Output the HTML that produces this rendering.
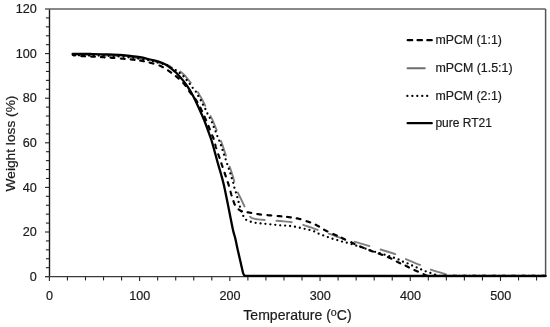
<!DOCTYPE html>
<html><head><meta charset="utf-8">
<style>
html,body{margin:0;padding:0;background:#fff;}
body{width:550px;height:327px;overflow:hidden;}
svg{display:block;filter:blur(0.3px);}
text{font-family:"Liberation Sans",Arial,sans-serif;fill:#1a1a1a;stroke:#1a1a1a;stroke-width:0.2px;}
</style></head><body>
<svg width="550" height="327" viewBox="0 0 550 327">
<rect width="550" height="327" fill="#fff"/>
<!-- plot border -->
<line x1="45" y1="9.0" x2="545.6" y2="9.0" stroke="#606060" stroke-width="1.6"/>
<line x1="545.6" y1="9.0" x2="545.6" y2="276.3" stroke="#555" stroke-width="1.5"/>
<!-- ticks -->
<g stroke="#222" stroke-width="1.1">
<line x1="45.0" y1="276.60" x2="49.5" y2="276.60"/>
<line x1="45.9" y1="267.68" x2="49.5" y2="267.68"/>
<line x1="45.9" y1="258.76" x2="49.5" y2="258.76"/>
<line x1="45.9" y1="249.84" x2="49.5" y2="249.84"/>
<line x1="45.9" y1="240.92" x2="49.5" y2="240.92"/>
<line x1="45.0" y1="232.00" x2="49.5" y2="232.00"/>
<line x1="45.9" y1="223.08" x2="49.5" y2="223.08"/>
<line x1="45.9" y1="214.16" x2="49.5" y2="214.16"/>
<line x1="45.9" y1="205.24" x2="49.5" y2="205.24"/>
<line x1="45.9" y1="196.32" x2="49.5" y2="196.32"/>
<line x1="45.0" y1="187.40" x2="49.5" y2="187.40"/>
<line x1="45.9" y1="178.48" x2="49.5" y2="178.48"/>
<line x1="45.9" y1="169.56" x2="49.5" y2="169.56"/>
<line x1="45.9" y1="160.64" x2="49.5" y2="160.64"/>
<line x1="45.9" y1="151.72" x2="49.5" y2="151.72"/>
<line x1="45.0" y1="142.80" x2="49.5" y2="142.80"/>
<line x1="45.9" y1="133.88" x2="49.5" y2="133.88"/>
<line x1="45.9" y1="124.96" x2="49.5" y2="124.96"/>
<line x1="45.9" y1="116.04" x2="49.5" y2="116.04"/>
<line x1="45.9" y1="107.12" x2="49.5" y2="107.12"/>
<line x1="45.0" y1="98.20" x2="49.5" y2="98.20"/>
<line x1="45.9" y1="89.28" x2="49.5" y2="89.28"/>
<line x1="45.9" y1="80.36" x2="49.5" y2="80.36"/>
<line x1="45.9" y1="71.44" x2="49.5" y2="71.44"/>
<line x1="45.9" y1="62.52" x2="49.5" y2="62.52"/>
<line x1="45.0" y1="53.60" x2="49.5" y2="53.60"/>
<line x1="45.9" y1="44.68" x2="49.5" y2="44.68"/>
<line x1="45.9" y1="35.76" x2="49.5" y2="35.76"/>
<line x1="45.9" y1="26.84" x2="49.5" y2="26.84"/>
<line x1="45.9" y1="17.92" x2="49.5" y2="17.92"/>
<line x1="49.40" y1="276.6" x2="49.40" y2="280.9"/>
<line x1="67.44" y1="276.6" x2="67.44" y2="280.4"/>
<line x1="85.49" y1="276.6" x2="85.49" y2="280.4"/>
<line x1="103.53" y1="276.6" x2="103.53" y2="280.4"/>
<line x1="121.57" y1="276.6" x2="121.57" y2="280.4"/>
<line x1="139.62" y1="276.6" x2="139.62" y2="280.9"/>
<line x1="157.66" y1="276.6" x2="157.66" y2="280.4"/>
<line x1="175.71" y1="276.6" x2="175.71" y2="280.4"/>
<line x1="193.75" y1="276.6" x2="193.75" y2="280.4"/>
<line x1="211.79" y1="276.6" x2="211.79" y2="280.4"/>
<line x1="229.84" y1="276.6" x2="229.84" y2="280.9"/>
<line x1="247.88" y1="276.6" x2="247.88" y2="280.4"/>
<line x1="265.92" y1="276.6" x2="265.92" y2="280.4"/>
<line x1="283.97" y1="276.6" x2="283.97" y2="280.4"/>
<line x1="302.01" y1="276.6" x2="302.01" y2="280.4"/>
<line x1="320.05" y1="276.6" x2="320.05" y2="280.9"/>
<line x1="338.10" y1="276.6" x2="338.10" y2="280.4"/>
<line x1="356.14" y1="276.6" x2="356.14" y2="280.4"/>
<line x1="374.19" y1="276.6" x2="374.19" y2="280.4"/>
<line x1="392.23" y1="276.6" x2="392.23" y2="280.4"/>
<line x1="410.27" y1="276.6" x2="410.27" y2="280.9"/>
<line x1="428.32" y1="276.6" x2="428.32" y2="280.4"/>
<line x1="446.36" y1="276.6" x2="446.36" y2="280.4"/>
<line x1="464.40" y1="276.6" x2="464.40" y2="280.4"/>
<line x1="482.45" y1="276.6" x2="482.45" y2="280.4"/>
<line x1="500.49" y1="276.6" x2="500.49" y2="280.9"/>
<line x1="518.53" y1="276.6" x2="518.53" y2="280.4"/>
<line x1="536.58" y1="276.6" x2="536.58" y2="280.4"/>
</g>
<!-- axes -->
<line x1="49.5" y1="9.6" x2="49.5" y2="276.6" stroke="#1a1a1a" stroke-width="1.4"/>
<line x1="45" y1="276.6" x2="545.6" y2="276.6" stroke="#3a3a3a" stroke-width="1.3"/>
<!-- curves -->
<g fill="none" stroke-linejoin="round">
<path d="M72.80,54.60 C77.33,54.70 92.13,54.92 100.00,55.20 C107.87,55.48 114.83,55.93 120.00,56.30 C125.17,56.67 126.00,56.72 131.00,57.40 C136.00,58.08 145.49,59.57 150.00,60.40 C154.51,61.23 155.90,61.87 158.08,62.41 C160.26,62.94 161.54,63.19 163.08,63.61 C164.62,64.03 165.89,64.38 167.32,64.92 C168.75,65.47 170.13,66.22 171.64,66.89 C173.15,67.57 174.87,68.15 176.37,68.98 C177.87,69.80 179.28,70.79 180.64,71.83 C182.01,72.88 183.41,74.09 184.56,75.24 C185.71,76.39 186.50,77.47 187.56,78.74 C188.61,80.02 189.85,81.53 190.89,82.89 C191.93,84.24 192.73,85.52 193.78,86.88 C194.84,88.24 196.31,89.73 197.23,91.04 C198.15,92.35 198.49,93.34 199.30,94.75 C200.12,96.17 201.28,97.99 202.12,99.53 C202.96,101.08 203.56,102.53 204.33,104.01 C205.10,105.49 206.01,106.96 206.74,108.43 C207.48,109.90 208.04,111.43 208.74,112.83 C209.44,114.23 210.18,115.35 210.93,116.81 C211.69,118.27 212.57,119.99 213.27,121.60 C213.98,123.20 214.52,124.90 215.14,126.44 C215.76,127.98 216.40,129.35 217.00,130.85 C217.59,132.35 218.08,133.89 218.70,135.45 C219.31,137.02 220.07,138.70 220.69,140.24 C221.31,141.78 221.89,143.22 222.41,144.70 C222.94,146.19 223.34,147.62 223.83,149.14 C224.31,150.67 224.77,152.18 225.32,153.83 C225.87,155.47 226.57,157.40 227.12,159.02 C227.67,160.63 228.09,161.94 228.62,163.52 C229.16,165.11 229.79,166.93 230.32,168.52 C230.86,170.11 231.35,171.51 231.83,173.05 C232.32,174.59 232.75,176.17 233.23,177.76 C233.72,179.36 234.02,180.27 234.75,182.61 C235.48,184.95 236.56,189.07 237.60,191.80 C238.64,194.53 239.88,196.63 241.00,199.00 C242.12,201.37 243.33,203.92 244.30,206.00 C245.27,208.08 246.00,209.93 246.80,211.50 C247.60,213.07 248.23,214.28 249.10,215.40 C249.97,216.52 250.52,217.53 252.00,218.20 C253.48,218.87 255.67,219.08 258.00,219.40 C260.33,219.72 263.17,219.90 266.00,220.10 C268.83,220.30 272.00,220.38 275.00,220.60 C278.00,220.82 281.00,221.10 284.00,221.40 C287.00,221.70 289.97,221.87 293.00,222.40 C296.03,222.93 299.37,223.80 302.20,224.60 C305.03,225.40 307.25,226.25 310.00,227.20 C312.75,228.15 315.72,229.28 318.70,230.30 C321.68,231.32 325.02,232.30 327.90,233.30 C330.78,234.30 333.13,235.27 336.00,236.30 C338.87,237.33 341.93,238.57 345.10,239.50 C348.27,240.43 352.18,241.17 355.00,241.90 C357.82,242.63 359.37,243.15 362.00,243.90 C364.63,244.65 367.87,245.52 370.80,246.40 C373.73,247.28 376.90,248.35 379.60,249.20 C382.30,250.05 384.43,250.70 387.00,251.50 C389.57,252.30 392.02,252.82 395.00,254.00 C397.98,255.18 401.90,257.25 404.90,258.60 C407.90,259.95 410.23,260.93 413.00,262.10 C415.77,263.27 418.67,264.40 421.50,265.60 C424.33,266.80 427.08,268.20 430.00,269.30 C432.92,270.40 436.10,271.32 439.00,272.20 C441.90,273.08 445.40,274.02 447.40,274.60 C449.40,275.18 449.73,275.48 451.00,275.70 C452.27,275.92 454.33,275.87 455.00,275.90 L545.60,275.90" stroke="#808080" stroke-width="1.9" stroke-linecap="round" stroke-dasharray="15.4 11.696" stroke-dashoffset="25.382"/>
<path d="M72.80,55.30 C75.67,55.33 83.80,55.40 90.00,55.50 C96.20,55.60 103.33,55.58 110.00,55.90 C116.67,56.22 123.33,56.63 130.00,57.40 C136.67,58.17 145.33,59.62 150.00,60.50 C154.67,61.38 155.83,62.13 158.00,62.70 C160.17,63.27 161.47,63.48 163.00,63.90 C164.53,64.32 165.82,64.60 167.20,65.20 C168.58,65.80 169.88,66.70 171.30,67.50 C172.72,68.30 174.30,69.08 175.70,70.00 C177.10,70.92 178.40,71.95 179.70,73.00 C181.00,74.05 182.38,75.18 183.50,76.30 C184.62,77.42 185.37,78.45 186.40,79.70 C187.43,80.95 188.67,82.45 189.70,83.80 C190.73,85.15 191.55,86.45 192.60,87.80 C193.65,89.15 195.10,90.62 196.00,91.90 C196.90,93.18 197.20,94.11 198.00,95.50 C198.80,96.89 199.97,98.72 200.80,100.25 C201.63,101.78 202.23,103.23 203.00,104.70 C203.77,106.17 204.67,107.63 205.40,109.10 C206.13,110.57 206.70,112.10 207.40,113.50 C208.10,114.90 208.85,116.05 209.60,117.50 C210.35,118.95 211.21,120.62 211.90,122.20 C212.59,123.78 213.13,125.47 213.75,127.00 C214.37,128.53 215.01,129.90 215.60,131.40 C216.19,132.90 216.68,134.43 217.30,136.00 C217.92,137.57 218.68,139.27 219.30,140.80 C219.92,142.33 220.48,143.73 221.00,145.20 C221.52,146.67 221.92,148.08 222.40,149.60 C222.88,151.12 223.35,152.65 223.90,154.30 C224.45,155.95 225.15,157.88 225.70,159.50 C226.25,161.12 226.67,162.42 227.20,164.00 C227.73,165.58 228.37,167.42 228.90,169.00 C229.43,170.58 229.92,171.97 230.40,173.50 C230.88,175.03 231.32,176.62 231.80,178.20 C232.28,179.78 232.87,181.40 233.30,183.00 C233.73,184.60 233.97,186.23 234.40,187.80 C234.83,189.37 235.42,190.83 235.90,192.40 C236.38,193.97 236.85,195.60 237.30,197.20 C237.75,198.80 238.17,200.42 238.60,202.00 C239.03,203.58 239.47,205.20 239.90,206.70 C240.33,208.20 240.65,209.48 241.20,211.00 C241.75,212.52 242.43,214.37 243.20,215.80 C243.97,217.23 244.57,218.62 245.80,219.60 C247.03,220.58 249.00,221.17 250.60,221.70 C252.20,222.23 253.82,222.52 255.40,222.80 C256.98,223.08 258.45,223.23 260.10,223.40 C261.75,223.57 262.75,223.57 265.30,223.80 C267.85,224.03 272.93,224.55 275.40,224.80 C277.87,225.05 278.52,225.17 280.10,225.30 C281.68,225.43 283.23,225.48 284.90,225.60 C286.57,225.72 288.43,225.81 290.10,226.00 C291.77,226.19 293.32,226.47 294.90,226.75 C296.48,227.03 298.02,227.36 299.60,227.70 C301.18,228.04 302.80,228.43 304.40,228.80 C306.00,229.17 307.60,229.47 309.20,229.90 C310.80,230.33 312.48,230.80 314.00,231.40 C315.52,232.00 316.78,232.83 318.30,233.50 C319.82,234.17 321.50,234.80 323.10,235.40 C324.70,236.00 326.32,236.54 327.90,237.10 C329.48,237.66 331.07,238.27 332.60,238.75 C334.13,239.23 335.57,239.54 337.10,240.00 C338.63,240.46 340.22,241.07 341.80,241.50 C343.38,241.93 344.40,241.97 346.60,242.60 C348.80,243.23 352.37,244.47 355.00,245.30 C357.63,246.13 359.58,246.68 362.40,247.60 C365.22,248.52 368.85,249.82 371.90,250.80 C374.95,251.78 377.63,252.55 380.70,253.50 C383.77,254.45 387.37,255.52 390.30,256.50 C393.23,257.48 396.23,258.55 398.30,259.40 C400.37,260.25 401.17,260.93 402.70,261.60 C404.23,262.27 405.90,262.73 407.50,263.40 C409.10,264.07 410.77,264.93 412.30,265.60 C413.83,266.27 415.23,266.77 416.70,267.40 C418.17,268.03 419.63,268.75 421.10,269.40 C422.57,270.05 423.98,270.72 425.50,271.30 C427.02,271.88 428.63,272.35 430.20,272.90 C431.77,273.45 433.60,274.13 434.90,274.60 C436.20,275.07 436.98,275.48 438.00,275.70 C439.02,275.92 440.50,275.87 441.00,275.90 L545.60,275.90" stroke="#000" stroke-width="2.3" stroke-linecap="round" stroke-dasharray="0 4.944" stroke-dashoffset="3.578"/>
<path d="M72.80,55.00 L72.92,55.01 L73.05,55.03 L73.19,55.05 L73.34,55.07 L73.50,55.09 L73.66,55.11 L73.84,55.13 L74.02,55.16 L74.21,55.18 L74.41,55.21 L74.62,55.24 L74.83,55.27 L75.04,55.30 L75.27,55.33 L75.28,55.33 M81.26,56.04 L81.49,56.06 L81.75,56.08 L82.00,56.10 L82.25,56.12 L82.51,56.14 L82.77,56.16 L83.03,56.17 L83.30,56.19 L83.56,56.21 L83.83,56.22 L84.10,56.24 L84.37,56.25 L84.65,56.26 L84.92,56.28 L85.05,56.28 M91.10,56.51 L91.11,56.51 L91.39,56.53 L91.66,56.54 L91.93,56.55 L92.20,56.56 L92.47,56.57 L92.74,56.59 L93.00,56.60 L93.26,56.61 L93.52,56.63 L93.78,56.64 L94.04,56.66 L94.30,56.67 L94.55,56.68 L94.81,56.70 L94.89,56.70 M100.88,57.06 L101.02,57.07 L101.26,57.09 L101.51,57.10 L101.76,57.12 L102.00,57.14 L102.25,57.15 L102.50,57.17 L102.75,57.18 L103.00,57.20 L103.25,57.22 L103.50,57.23 L103.75,57.25 L104.00,57.27 L104.25,57.28 L104.50,57.30 L104.68,57.31 M110.60,57.72 L110.75,57.73 L111.00,57.75 L111.25,57.77 L111.50,57.79 L111.75,57.81 L112.00,57.83 L112.25,57.84 L112.50,57.86 L112.75,57.88 L113.00,57.90 L113.25,57.92 L113.50,57.94 L113.75,57.96 L114.00,57.98 L114.25,57.99 L114.39,58.00 M120.88,58.52 L121.03,58.53 L121.28,58.55 L121.53,58.57 L121.77,58.59 L122.02,58.62 L122.27,58.64 L122.51,58.66 L122.76,58.68 L123.00,58.70 L123.24,58.72 L123.49,58.74 L123.73,58.76 L123.97,58.78 L124.21,58.80 L124.45,58.83 L124.67,58.84 M130.76,59.41 L130.84,59.42 L131.08,59.44 L131.32,59.47 L131.55,59.49 L131.79,59.52 L132.03,59.55 L132.26,59.57 L132.50,59.60 L132.74,59.63 L132.97,59.65 L133.21,59.68 L133.45,59.71 L133.69,59.74 L133.92,59.76 L134.16,59.79 L134.40,59.82 L134.54,59.84 M140.23,60.60 L140.33,60.61 L140.57,60.65 L140.81,60.69 L141.05,60.73 L141.28,60.77 L141.52,60.81 L141.76,60.86 L142.00,60.90 L142.24,60.94 L142.48,60.99 L142.72,61.04 L142.96,61.08 L143.21,61.13 L143.45,61.18 L143.69,61.23 L143.94,61.28 L143.97,61.28 M149.65,62.60 L149.77,62.63 L150.01,62.69 L150.24,62.75 L150.47,62.80 L150.70,62.86 L150.93,62.92 L151.15,62.98 L151.38,63.04 L151.60,63.10 L151.82,63.16 L152.04,63.22 L152.26,63.28 L152.48,63.34 L152.70,63.40 L152.92,63.45 L153.14,63.51 L153.33,63.57 M159.50,65.52 L159.53,65.53 L159.70,65.60 L159.87,65.67 L160.03,65.74 L160.19,65.80 L160.34,65.87 L160.50,65.94 L160.65,66.01 L160.80,66.08 L160.94,66.15 L161.09,66.22 L161.23,66.29 L161.37,66.36 L161.51,66.43 L161.64,66.50 L161.77,66.57 L161.91,66.64 L162.04,66.71 L162.16,66.78 L162.29,66.86 L162.42,66.93 L162.54,67.00 L162.67,67.07 L162.79,67.15 L162.90,67.21 M168.05,70.43 L168.08,70.45 L168.20,70.54 L168.33,70.62 L168.45,70.71 L168.58,70.80 L168.71,70.89 L168.84,70.98 L168.98,71.07 L169.12,71.17 L169.26,71.27 L169.40,71.37 L169.55,71.47 L169.69,71.58 L169.85,71.69 L170.00,71.80 L170.16,71.91 L170.32,72.03 L170.48,72.15 L170.65,72.27 L170.82,72.39 L170.99,72.51 L171.15,72.63 M175.87,76.14 L175.99,76.24 L176.18,76.39 L176.37,76.55 L176.56,76.71 L176.75,76.87 L176.94,77.02 L177.13,77.18 L177.32,77.34 L177.50,77.50 L177.68,77.66 L177.87,77.82 L178.05,77.98 L178.24,78.15 L178.42,78.31 L178.61,78.48 L178.76,78.61 M183.22,82.96 L183.31,83.05 L183.48,83.23 L183.65,83.42 L183.81,83.60 L183.97,83.78 L184.13,83.96 L184.29,84.14 L184.45,84.32 L184.60,84.50 L184.75,84.68 L184.90,84.86 L185.04,85.04 L185.19,85.22 L185.32,85.40 L185.46,85.58 L185.60,85.76 L185.67,85.86 M189.10,91.06 L189.15,91.13 L189.28,91.32 L189.42,91.51 L189.56,91.71 L189.70,91.90 L189.84,92.09 L189.99,92.29 L190.14,92.48 L190.28,92.67 L190.44,92.87 L190.59,93.06 L190.74,93.25 L190.90,93.44 L191.05,93.64 L191.21,93.83 L191.37,94.02 L191.41,94.08 M195.29,98.95 L195.40,99.11 L195.55,99.33 L195.70,99.55 L195.85,99.77 L196.00,100.00 L196.15,100.23 L196.29,100.46 L196.44,100.69 L196.59,100.92 L196.73,101.16 L196.88,101.40 L197.02,101.64 L197.17,101.88 L197.31,102.12 L197.33,102.16 M200.30,107.63 L200.35,107.71 L200.48,107.97 L200.61,108.23 L200.74,108.48 L200.87,108.74 L200.99,108.99 L201.12,109.25 L201.25,109.50 L201.37,109.75 L201.50,110.00 L201.62,110.25 L201.75,110.50 L201.87,110.75 L201.99,111.00 L202.01,111.03 M204.59,116.70 L204.61,116.75 L204.72,117.00 L204.83,117.25 L204.93,117.50 L205.04,117.75 L205.15,118.00 L205.25,118.25 L205.36,118.50 L205.47,118.75 L205.57,119.00 L205.68,119.25 L205.79,119.50 L205.89,119.75 L206.00,120.00 L206.08,120.19 M208.41,125.97 L208.42,126.00 L208.52,126.25 L208.62,126.50 L208.72,126.75 L208.82,127.00 L208.91,127.25 L209.01,127.50 L209.11,127.75 L209.21,128.00 L209.31,128.25 L209.40,128.50 L209.50,128.75 L209.60,129.00 L209.70,129.25 L209.80,129.50 L209.80,129.51 M212.18,135.27 L212.28,135.50 L212.38,135.75 L212.49,136.00 L212.59,136.25 L212.69,136.50 L212.79,136.75 L212.89,137.00 L212.99,137.25 L213.08,137.50 L213.18,137.75 L213.28,138.00 L213.37,138.25 L213.47,138.50 L213.56,138.75 L213.58,138.80 M215.32,144.56 L215.37,144.75 L215.43,145.00 L215.50,145.25 L215.56,145.50 L215.62,145.75 L215.69,146.00 L215.75,146.25 L215.82,146.50 L215.88,146.75 L215.95,147.00 L216.01,147.25 L216.08,147.50 L216.15,147.75 L216.21,148.00 L216.28,148.24 M218.26,154.29 L218.34,154.50 L218.43,154.75 L218.52,155.00 L218.61,155.25 L218.70,155.50 L218.79,155.75 L218.88,156.00 L218.97,156.25 L219.06,156.50 L219.15,156.75 L219.24,157.00 L219.33,157.25 L219.42,157.50 L219.51,157.75 L219.55,157.86 M221.40,163.29 L221.47,163.50 L221.55,163.75 L221.63,164.00 L221.71,164.25 L221.79,164.50 L221.87,164.75 L221.96,165.00 L222.04,165.25 L222.12,165.50 L222.20,165.75 L222.28,166.00 L222.36,166.25 L222.45,166.50 L222.53,166.75 L222.58,166.91 M224.56,172.83 L224.56,172.84 L224.65,173.11 L224.74,173.37 L224.83,173.64 L224.92,173.90 L225.01,174.16 L225.10,174.43 L225.19,174.69 L225.28,174.95 L225.37,175.21 L225.46,175.47 L225.55,175.73 L225.63,175.99 L225.72,176.24 L225.79,176.43 M227.75,182.19 L227.79,182.31 L227.85,182.46 L227.90,182.61 L227.95,182.76 L228.00,182.91 L228.05,183.06 L228.11,183.21 L228.16,183.36 L228.21,183.50 L228.26,183.65 L228.31,183.80 L228.36,183.94 L228.41,184.09 L228.46,184.24 L228.51,184.39 L228.56,184.54 L228.61,184.70 L228.66,184.85 L228.71,185.01 L228.76,185.17 L228.81,185.34 L228.87,185.51 L228.92,185.68 L228.95,185.79 M230.58,191.69 L230.60,191.76 L230.66,192.00 L230.73,192.24 L230.79,192.47 L230.85,192.71 L230.92,192.95 L230.98,193.19 L231.05,193.42 L231.11,193.66 L231.18,193.89 L231.24,194.12 L231.31,194.35 L231.37,194.58 L231.44,194.81 L231.50,195.04 L231.57,195.26 L231.60,195.35 M233.46,201.18 L233.50,201.29 L233.57,201.50 L233.64,201.70 L233.71,201.90 L233.78,202.10 L233.85,202.30 L233.92,202.49 L233.99,202.67 L234.05,202.86 L234.12,203.03 L234.19,203.21 L234.25,203.38 L234.31,203.54 L234.38,203.70 L234.44,203.85 L234.50,204.00 L234.56,204.14 L234.62,204.28 L234.67,204.41 L234.73,204.54 L234.78,204.66 L234.81,204.72 M238.67,209.40 L238.69,209.42 L238.77,209.48 L238.85,209.54 L238.93,209.60 L239.01,209.66 L239.09,209.72 L239.18,209.78 L239.26,209.83 L239.34,209.89 L239.42,209.95 L239.50,210.00 L239.58,210.05 L239.66,210.11 L239.74,210.16 L239.82,210.21 L239.90,210.26 L239.97,210.31 L240.05,210.35 L240.13,210.40 L240.20,210.45 L240.28,210.49 L240.36,210.54 L240.43,210.58 L240.51,210.63 L240.59,210.67 L240.67,210.71 L240.74,210.75 L240.82,210.79 L240.90,210.83 L240.98,210.87 L241.06,210.91 L241.14,210.95 L241.23,210.99 L241.31,211.03 L241.40,211.06 L241.48,211.10 L241.57,211.14 L241.66,211.17 L241.75,211.21 L241.84,211.24 L241.94,211.27 L241.95,211.28 M247.50,212.28 L247.53,212.28 L247.70,212.31 L247.86,212.33 L248.02,212.35 L248.19,212.37 L248.35,212.40 L248.51,212.42 L248.67,212.45 L248.84,212.47 L249.00,212.50 L249.16,212.53 L249.33,212.56 L249.50,212.59 L249.66,212.62 L249.83,212.65 L250.01,212.68 L250.18,212.71 L250.35,212.74 L250.53,212.77 L250.70,212.81 L250.88,212.84 L251.06,212.87 L251.24,212.91 L251.25,212.91 M257.25,214.01 L257.29,214.01 L257.45,214.04 L257.61,214.06 L257.77,214.09 L257.92,214.12 L258.08,214.14 L258.24,214.16 L258.39,214.19 L258.55,214.21 L258.70,214.24 L258.86,214.26 L259.01,214.28 L259.16,214.31 L259.31,214.33 L259.46,214.35 L259.61,214.37 L259.76,214.40 L259.91,214.42 L260.06,214.44 L260.20,214.46 L260.35,214.48 L260.49,214.50 L260.64,214.52 L260.78,214.54 L260.92,214.56 L261.01,214.57 M267.50,215.19 L267.61,215.20 L267.84,215.21 L268.06,215.23 L268.30,215.25 L268.54,215.27 L268.78,215.29 L269.03,215.31 L269.28,215.33 L269.54,215.35 L269.80,215.37 L270.06,215.39 L270.32,215.41 L270.59,215.43 L270.86,215.45 L271.13,215.47 L271.29,215.48 M277.60,215.99 L277.72,216.00 L277.96,216.03 L278.20,216.05 L278.44,216.07 L278.68,216.09 L278.91,216.11 L279.15,216.13 L279.39,216.15 L279.63,216.17 L279.87,216.19 L280.10,216.21 L280.34,216.23 L280.57,216.25 L280.81,216.28 L281.05,216.30 L281.28,216.32 L281.38,216.33 M287.09,216.93 L287.22,216.94 L287.47,216.97 L287.73,217.00 L287.98,217.03 L288.23,217.07 L288.49,217.10 L288.75,217.13 L289.00,217.16 L289.26,217.19 L289.52,217.23 L289.77,217.26 L290.03,217.29 L290.29,217.32 L290.54,217.36 L290.80,217.39 L290.86,217.40 M296.68,218.30 L296.82,218.32 L296.98,218.36 L297.14,218.39 L297.29,218.42 L297.44,218.45 L297.59,218.48 L297.73,218.52 L297.87,218.55 L298.01,218.58 L298.15,218.61 L298.28,218.64 L298.42,218.67 L298.55,218.71 L298.68,218.74 L298.80,218.77 L298.93,218.80 L299.05,218.83 L299.18,218.87 L299.30,218.90 L299.42,218.93 L299.54,218.96 L299.66,219.00 L299.78,219.03 L299.90,219.06 L300.02,219.09 L300.14,219.13 L300.25,219.16 L300.37,219.19 M306.55,221.24 L306.55,221.24 L306.69,221.29 L306.83,221.33 L306.97,221.38 L307.12,221.42 L307.26,221.47 L307.40,221.51 L307.55,221.56 L307.69,221.60 L307.84,221.65 L307.98,221.70 L308.13,221.74 L308.27,221.79 L308.42,221.83 L308.57,221.88 L308.71,221.93 L308.86,221.97 L309.00,222.02 L309.14,222.07 L309.28,222.11 L309.43,222.16 L309.57,222.20 L309.70,222.25 L309.84,222.30 L309.98,222.34 L310.11,222.39 L310.16,222.40 M315.67,224.73 L315.69,224.75 L315.81,224.81 L315.93,224.87 L316.06,224.93 L316.18,225.00 L316.30,225.06 L316.43,225.13 L316.55,225.19 L316.68,225.26 L316.81,225.33 L316.93,225.39 L317.06,225.46 L317.19,225.53 L317.32,225.60 L317.44,225.67 L317.57,225.74 L317.70,225.81 L317.82,225.88 L317.95,225.95 L318.07,226.01 L318.20,226.08 L318.32,226.15 L318.45,226.22 L318.57,226.29 L318.69,226.36 L318.81,226.42 L318.92,226.49 L319.01,226.54 M324.06,229.73 L324.15,229.77 L324.27,229.84 L324.40,229.91 L324.53,229.98 L324.66,230.04 L324.79,230.11 L324.92,230.18 L325.06,230.25 L325.19,230.32 L325.33,230.39 L325.46,230.46 L325.60,230.53 L325.74,230.59 L325.87,230.66 L326.01,230.73 L326.15,230.80 L326.28,230.87 L326.42,230.93 L326.55,231.00 L326.69,231.07 L326.82,231.13 L326.95,231.20 L327.08,231.26 L327.22,231.32 L327.34,231.39 L327.46,231.44 M333.30,234.05 L333.40,234.09 L333.49,234.14 L333.59,234.18 L333.69,234.23 L333.79,234.27 L333.89,234.32 L333.99,234.36 L334.08,234.40 L334.18,234.45 L334.28,234.49 L334.38,234.54 L334.48,234.58 L334.58,234.63 L334.68,234.67 L334.78,234.72 L334.87,234.76 L334.97,234.81 L335.07,234.85 L335.17,234.90 L335.27,234.94 L335.37,234.99 L335.48,235.03 L335.58,235.08 L335.68,235.12 L335.78,235.17 L335.88,235.22 L335.99,235.26 L336.09,235.31 L336.20,235.35 L336.30,235.40 L336.41,235.45 L336.51,235.49 L336.62,235.54 L336.72,235.58 L336.77,235.60 M341.69,237.78 L341.70,237.79 L341.83,237.85 L341.96,237.92 L342.09,237.99 L342.23,238.05 L342.36,238.12 L342.49,238.19 L342.63,238.26 L342.76,238.33 L342.90,238.40 L343.03,238.47 L343.17,238.54 L343.30,238.61 L343.43,238.68 L343.57,238.75 L343.70,238.81 L343.84,238.88 L343.97,238.95 L344.11,239.02 L344.24,239.09 L344.37,239.16 L344.51,239.22 L344.64,239.29 L344.77,239.36 L344.90,239.42 L345.03,239.48 L345.07,239.51 M351.27,242.21 L351.28,242.22 L351.39,242.28 L351.50,242.34 L351.60,242.41 L351.71,242.47 L351.82,242.53 L351.92,242.59 L352.03,242.66 L352.14,242.72 L352.24,242.79 L352.35,242.85 L352.46,242.92 L352.57,242.98 L352.68,243.05 L352.80,243.12 L352.91,243.19 L353.03,243.25 L353.14,243.32 L353.26,243.39 L353.38,243.46 L353.50,243.53 L353.63,243.60 L353.75,243.67 L353.88,243.74 L354.01,243.81 L354.15,243.88 L354.28,243.95 L354.42,244.02 L354.56,244.09 L354.57,244.09 M360.19,246.50 L360.34,246.56 L360.54,246.65 L360.74,246.73 L360.95,246.81 L361.15,246.89 L361.36,246.98 L361.56,247.06 L361.77,247.14 L361.98,247.23 L362.19,247.31 L362.40,247.40 L362.61,247.49 L362.83,247.58 L363.05,247.66 L363.27,247.75 L363.49,247.85 L363.71,247.94 M369.38,250.23 L369.52,250.28 L369.77,250.38 L370.01,250.47 L370.25,250.57 L370.49,250.66 L370.73,250.75 L370.97,250.85 L371.20,250.94 L371.44,251.02 L371.67,251.11 L371.90,251.20 L372.13,251.29 L372.36,251.37 L372.58,251.45 L372.81,251.54 L372.93,251.58 M378.71,253.58 L378.92,253.65 L379.14,253.73 L379.36,253.81 L379.58,253.89 L379.80,253.97 L380.03,254.05 L380.25,254.13 L380.47,254.22 L380.70,254.30 L380.93,254.39 L381.16,254.47 L381.39,254.56 L381.63,254.65 L381.86,254.74 L382.10,254.83 L382.27,254.89 M387.96,257.13 L388.14,257.20 L388.36,257.30 L388.58,257.39 L388.80,257.48 L389.01,257.57 L389.21,257.66 L389.42,257.74 L389.62,257.83 L389.81,257.92 L390.00,258.00 L390.19,258.08 L390.37,258.17 L390.54,258.25 L390.72,258.33 L390.89,258.41 L391.05,258.49 L391.22,258.57 L391.38,258.65 L391.43,258.68 M396.82,261.57 L396.93,261.63 L397.07,261.70 L397.21,261.77 L397.34,261.84 L397.48,261.91 L397.62,261.98 L397.75,262.05 L397.89,262.12 L398.02,262.19 L398.16,262.25 L398.29,262.32 L398.43,262.39 L398.56,262.45 L398.69,262.52 L398.82,262.59 L398.95,262.65 L399.08,262.72 L399.21,262.78 L399.34,262.84 L399.47,262.91 L399.59,262.97 L399.72,263.03 L399.84,263.09 L399.96,263.15 L400.09,263.21 L400.21,263.27 L400.21,263.27 M405.59,265.69 L405.68,265.73 L405.81,265.80 L405.94,265.86 L406.07,265.93 L406.20,266.00 L406.34,266.07 L406.47,266.14 L406.61,266.21 L406.74,266.28 L406.88,266.35 L407.01,266.42 L407.15,266.49 L407.29,266.56 L407.42,266.63 L407.56,266.70 L407.69,266.77 L407.83,266.84 L407.96,266.91 L408.10,266.98 L408.23,267.05 L408.36,267.12 L408.49,267.18 L408.62,267.25 L408.75,267.32 L408.87,267.38 L408.96,267.43 M414.40,270.06 L414.47,270.09 L414.60,270.15 L414.73,270.21 L414.86,270.27 L414.99,270.33 L415.12,270.39 L415.25,270.45 L415.39,270.51 L415.52,270.57 L415.66,270.63 L415.79,270.69 L415.92,270.75 L416.06,270.81 L416.20,270.87 L416.33,270.93 L416.46,270.99 L416.60,271.05 L416.73,271.11 L416.87,271.17 L417.00,271.23 L417.13,271.29 L417.26,271.35 L417.39,271.41 L417.52,271.46 L417.65,271.52 L417.78,271.58 L417.87,271.62 M423.58,274.20 L423.60,274.21 L423.68,274.26 L423.77,274.30 L423.86,274.35 L423.94,274.40 L424.03,274.44 L424.11,274.49 L424.20,274.54 L424.28,274.59 L424.37,274.63 L424.45,274.68 L424.54,274.72 L424.62,274.77 L424.70,274.81 L424.79,274.85 L424.87,274.90 L424.95,274.94 L425.03,274.98 L425.11,275.02 L425.19,275.06 L425.28,275.10 L425.36,275.14 L425.44,275.18 L425.52,275.21 L425.60,275.25 L425.68,275.28 L425.76,275.31 L425.84,275.34 L425.92,275.37 L426.00,275.40 L426.08,275.43 L426.17,275.45 L426.25,275.48 L426.34,275.50 L426.43,275.53 L426.51,275.55 L426.60,275.57 L426.69,275.59 L426.78,275.61 L426.87,275.63 L426.96,275.64 L427.05,275.66 L427.06,275.66 M433.07,275.90 L433.52,275.90 L434.03,275.90 L434.53,275.90 L435.03,275.90 L435.53,275.90 L436.04,275.90 L436.54,275.90 L436.87,275.90 M442.90,275.90 L443.07,275.90 L443.57,275.90 L444.08,275.90 L444.58,275.90 L445.08,275.90 L445.59,275.90 L446.09,275.90 L446.59,275.90 L446.70,275.90 M452.72,275.90 L453.12,275.90 L453.63,275.90 L454.13,275.90 L454.63,275.90 L455.13,275.90 L455.64,275.90 L456.14,275.90 L456.52,275.90 M462.55,275.90 L462.67,275.90 L463.18,275.90 L463.68,275.90 L464.18,275.90 L464.68,275.90 L465.19,275.90 L465.69,275.90 L466.19,275.90 L466.35,275.90 M472.37,275.90 L472.73,275.90 L473.23,275.90 L473.73,275.90 L474.23,275.90 L474.74,275.90 L475.24,275.90 L475.74,275.90 L476.17,275.90 M482.20,275.90 L482.27,275.90 L482.78,275.90 L483.28,275.90 L483.78,275.90 L484.28,275.90 L484.79,275.90 L485.29,275.90 L485.79,275.90 L486.00,275.90 M492.02,275.90 L492.33,275.90 L492.83,275.90 L493.33,275.90 L493.83,275.90 L494.34,275.90 L494.84,275.90 L495.34,275.90 L495.82,275.90 M501.85,275.90 L501.88,275.90 L502.38,275.90 L502.88,275.90 L503.38,275.90 L503.89,275.90 L504.39,275.90 L504.89,275.90 L505.39,275.90 L505.65,275.90 M511.67,275.90 L511.93,275.90 L512.43,275.90 L512.93,275.90 L513.43,275.90 L513.94,275.90 L514.44,275.90 L514.94,275.90 L515.44,275.90 L515.47,275.90 M521.50,275.90 L521.98,275.90 L522.48,275.90 L522.98,275.90 L523.49,275.90 L523.99,275.90 L524.49,275.90 L524.99,275.90 L525.30,275.90 M531.32,275.90 L531.53,275.90 L532.03,275.90 L532.53,275.90 L533.04,275.90 L533.54,275.90 L534.04,275.90 L534.54,275.90 L535.05,275.90 L535.12,275.90 M541.15,275.90 L541.58,275.90 L542.08,275.90 L542.58,275.90 L543.09,275.90 L543.59,275.90 L544.09,275.90 L544.59,275.90 L544.95,275.90" stroke="#000" stroke-width="2.2" stroke-linecap="round"/>
<path d="M72.60,53.90 C75.50,53.92 84.10,53.93 90.00,54.00 C95.90,54.07 103.00,54.13 108.00,54.30 C113.00,54.47 116.33,54.73 120.00,55.00 C123.67,55.27 126.67,55.53 130.00,55.90 C133.33,56.27 136.67,56.60 140.00,57.20 C143.33,57.80 147.50,58.93 150.00,59.50 C152.50,60.07 153.33,60.17 155.00,60.60 C156.67,61.03 158.33,61.50 160.00,62.10 C161.67,62.70 163.33,63.30 165.00,64.20 C166.67,65.10 168.33,66.25 170.00,67.50 C171.67,68.75 173.73,70.58 175.00,71.70 C176.27,72.82 176.27,72.75 177.60,74.20 C178.93,75.65 181.25,78.20 183.00,80.40 C184.75,82.60 186.43,84.83 188.10,87.40 C189.77,89.97 191.25,92.45 193.00,95.80 C194.75,99.15 196.75,103.47 198.60,107.50 C200.45,111.53 202.53,116.17 204.10,120.00 C205.67,123.83 206.78,127.17 208.00,130.50 C209.22,133.83 210.32,136.58 211.40,140.00 C212.48,143.42 213.48,147.33 214.50,151.00 C215.52,154.67 216.42,158.17 217.50,162.00 C218.58,165.83 219.90,170.00 221.00,174.00 C222.10,178.00 222.80,180.17 224.10,186.00 C225.40,191.83 227.32,201.67 228.80,209.00 C230.28,216.33 231.93,225.17 233.00,230.00 C234.07,234.83 234.37,234.50 235.20,238.00 C236.03,241.50 237.03,246.67 238.00,251.00 C238.97,255.33 240.17,260.37 241.00,264.00 C241.83,267.63 242.47,270.90 243.00,272.80 C243.53,274.70 243.70,274.88 244.20,275.40 C244.70,275.92 245.70,275.82 246.00,275.90 L545.60,275.90" stroke="#000" stroke-width="2.3" stroke-linecap="round"/>
</g>
<!-- tick labels -->
<g font-size="12.6px">
<text x="36.8" y="280.80" text-anchor="end">0</text>
<text x="36.8" y="236.20" text-anchor="end">20</text>
<text x="36.8" y="191.60" text-anchor="end">40</text>
<text x="36.8" y="147.00" text-anchor="end">60</text>
<text x="36.8" y="102.40" text-anchor="end">80</text>
<text x="36.8" y="57.80" text-anchor="end">100</text>
<text x="36.8" y="13.20" text-anchor="end">120</text>
<text x="49.60" y="299.8" text-anchor="middle">0</text>
<text x="139.82" y="299.8" text-anchor="middle">100</text>
<text x="230.04" y="299.8" text-anchor="middle">200</text>
<text x="320.25" y="299.8" text-anchor="middle">300</text>
<text x="410.47" y="299.8" text-anchor="middle">400</text>
<text x="500.69" y="299.8" text-anchor="middle">500</text>
</g>
<!-- axis titles -->
<text x="243.3" y="320.1" font-size="13.9px" textLength="108.3" lengthAdjust="spacingAndGlyphs">Temperature (<tspan font-size="10.5px" dy="-4.6">o</tspan><tspan dy="4.6">C)</tspan></text>
<text transform="translate(15.2,191.4) rotate(-90)" font-size="13.3px" textLength="95.8" lengthAdjust="spacingAndGlyphs">Weight loss (%)</text>
<!-- legend -->
<g fill="none">
<line x1="407.7" y1="40.2" x2="432.0" y2="40.2" stroke="#000" stroke-width="2.2" stroke-linecap="round" stroke-dasharray="4.5 5.3"/>
<line x1="407.5" y1="68.3" x2="424.8" y2="68.3" stroke="#6e6e6e" stroke-width="1.9" stroke-linecap="round"/>
<line x1="407.4" y1="95.9" x2="428" y2="95.9" stroke="#000" stroke-width="2.3" stroke-linecap="round" stroke-dasharray="0 4.95"/>
<line x1="407.6" y1="123.2" x2="431.8" y2="123.2" stroke="#000" stroke-width="2.2" stroke-linecap="round"/>
</g>
<g font-size="11.9px">
<text x="435.4" y="44.0" textLength="66.5" lengthAdjust="spacingAndGlyphs">mPCM (1:1)</text>
<text x="435.4" y="72.0" textLength="77.2" lengthAdjust="spacingAndGlyphs">mPCM (1.5:1)</text>
<text x="435.4" y="99.7" textLength="66.5" lengthAdjust="spacingAndGlyphs">mPCM (2:1)</text>
<text x="435.4" y="127.0" textLength="56.6" lengthAdjust="spacingAndGlyphs">pure RT21</text>
</g>
</svg>
</body></html>
